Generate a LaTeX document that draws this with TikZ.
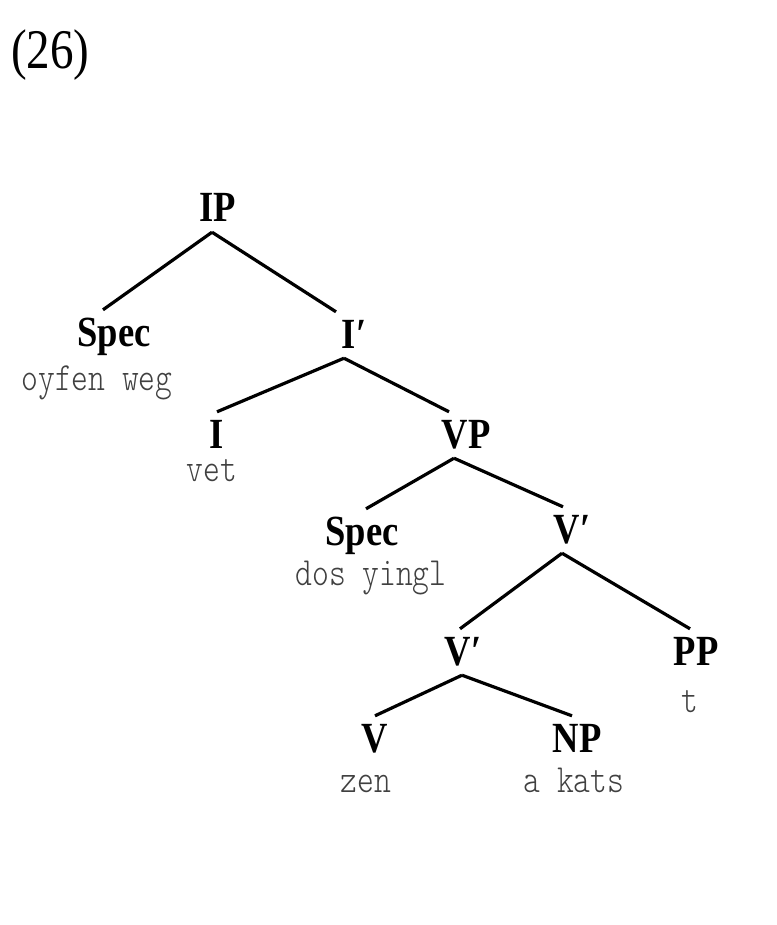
\documentclass[tikz,border=0pt]{standalone}
\usepackage{fontspec}
\newfontfamily\lblfont[FakeStretch=0.85]{Liberation Serif}
\newfontfamily\numfont[FakeStretch=0.84]{Liberation Serif}
\newfontfamily\wordfont[FakeStretch=0.8]{Latin Modern Mono Light}
\begin{document}
\begin{tikzpicture}[x=1pt,y=-1pt,
  lbl/.style={anchor=base,inner xsep=0pt,inner ysep=0pt,text height=36pt,text depth=0pt,
    font=\lblfont\bfseries\fontsize{43}{43}\selectfont},
  word/.style={anchor=base,inner sep=0pt,text height=20pt,text depth=6pt,text=black!75,
    font=\wordfont\fontsize{40}{40}\selectfont},
  edge/.style={line width=3.2pt}]
\useasboundingbox (0,0) rectangle (776,925);
\node[anchor=base west,inner sep=0pt,font=\numfont\fontsize{56}{56}\selectfont] (ex) at (11,69) {(26)};
% tree labels
\node[lbl] (ip) at (218,222) {IP};
\node[lbl] (spec1) at (114,346) {Spec};
\node[lbl] (ibar) at (349,348) {I\rlap{′}};
\node[lbl] (i) at (217,448) {I};
\node[lbl] (vp) at (466,448) {VP};
\node[lbl] (spec2) at (362,545) {Spec};
\node[lbl] (vbara) at (567,543) {V\rlap{′}};
\node[lbl] (vbarb) at (458,665) {V\rlap{′}};
\node[lbl] (pp) at (696,665) {PP};
\node[lbl] (v) at (375,752) {V};
\node[lbl] (np) at (577,752) {NP};
% words
\node[word] (w1) at (97,390) {oyfen weg};
\node[word] (w2) at (212,481) {vet};
\node[word] (w3) at (371,585) {dos yingl};
\node[word] (w4) at (690,712) {t};
\node[word] (w5) at (366,792) {zen};
\node[word] (w6) at (574,792) {a kats};
% edges
\draw[edge] ([xshift=-6pt,yshift=-10pt]ip.south) -- ([xshift=-11pt]spec1.north);
\draw[edge] ([xshift=-6pt,yshift=-10pt]ip.south) -- ([xshift=-13pt]ibar.north);
\draw[edge] ([xshift=-5pt,yshift=-10pt]ibar.south) -- (i.north);
\draw[edge] ([xshift=-5pt,yshift=-10pt]ibar.south) -- ([xshift=-17pt]vp.north);
\draw[edge] ([xshift=-12pt,yshift=-10pt]vp.south) -- ([xshift=4pt]spec2.north);
\draw[edge] ([xshift=-12pt,yshift=-10pt]vp.south) -- ([xshift=-4pt]vbara.north);
\draw[edge] ([xshift=-5pt,yshift=-10pt]vbara.south) -- ([xshift=2pt]vbarb.north);
\draw[edge] ([xshift=-5pt,yshift=-10pt]vbara.south) -- ([xshift=-6pt]pp.north);
\draw[edge] ([xshift=4pt,yshift=-10pt]vbarb.south) -- (v.north);
\draw[edge] ([xshift=4pt,yshift=-10pt]vbarb.south) -- ([xshift=-5pt]np.north);
\end{tikzpicture}
\end{document}
